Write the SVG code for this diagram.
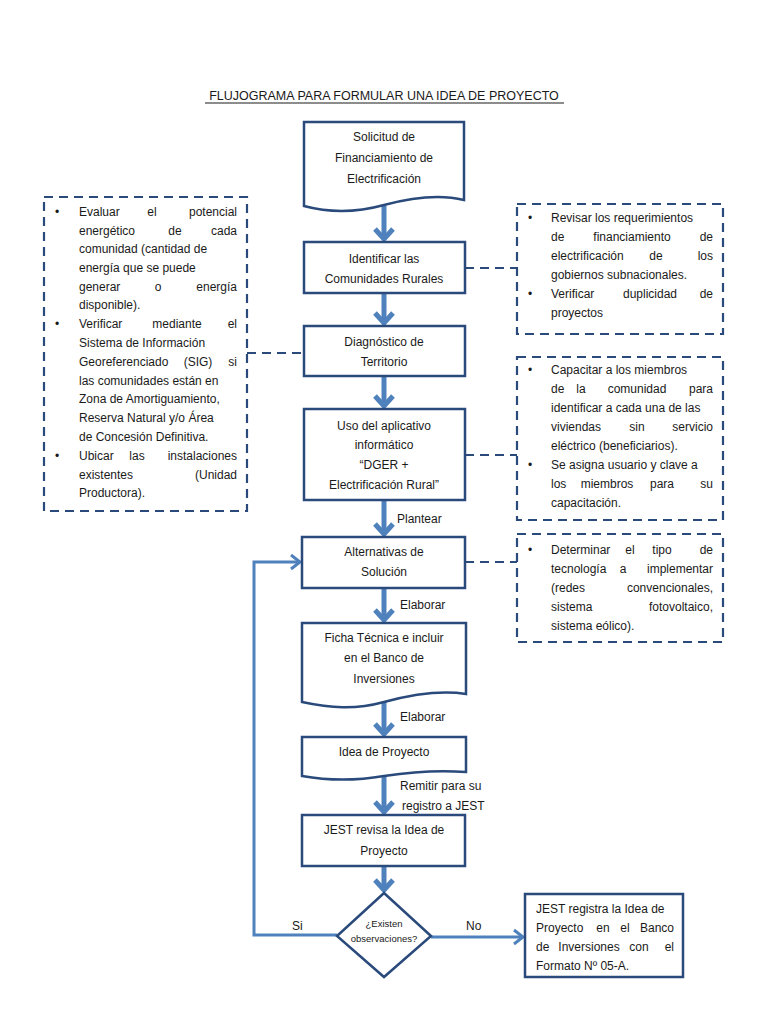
<svg xmlns="http://www.w3.org/2000/svg" width="768" height="1024" viewBox="0 0 768 1024">
<defs>
<style>
text{font-family:"Liberation Sans",Arial,sans-serif;font-size:12px;fill:#1a1a1a}
.c{text-anchor:middle}
.e{text-anchor:end}
.box{fill:#fff;stroke:#2A4A7B;stroke-width:2.5}
.dash{fill:none;stroke:#2A4A7B;stroke-width:2.2;stroke-dasharray:9 6}
.sh{fill:none;stroke:#4F81BD;stroke-width:5}
.ln{fill:none;stroke:#4F81BD;stroke-width:3}
</style>
<path id="chev" d="M-9,-11 L0,-1 L9,-11" fill="none" stroke="#4F81BD" stroke-width="5" stroke-linejoin="miter"/>
</defs>
<rect width="768" height="1024" fill="#fff"/>
<text x="384" y="100" class="c" style="font-size:12.5px">FLUJOGRAMA PARA FORMULAR UNA IDEA DE PROYECTO</text>
<line x1="205" y1="103" x2="564" y2="103" stroke="#1a1a1a" stroke-width="1"/>

<g id="connectors">
<line class="sh" x1="384" y1="206" x2="384" y2="238"/><use href="#chev" x="384" y="240"/>
<line class="sh" x1="384" y1="293" x2="384" y2="322"/><use href="#chev" x="384" y="324"/>
<line class="sh" x1="384" y1="376" x2="384" y2="405"/><use href="#chev" x="384" y="407"/>
<line class="sh" x1="384" y1="500" x2="384" y2="533"/><use href="#chev" x="384" y="535"/>
<line class="sh" x1="384" y1="588" x2="384" y2="619"/><use href="#chev" x="384" y="621"/>
<line class="sh" x1="384" y1="702" x2="384" y2="733"/><use href="#chev" x="384" y="735"/>
<line class="sh" x1="384" y1="776" x2="384" y2="811"/><use href="#chev" x="384" y="813"/>
<line class="sh" x1="384" y1="866" x2="384" y2="889"/><use href="#chev" x="384" y="891"/>
<path class="ln" d="M337,935 H254 V562 H299"/>
<path d="M291,555 L300,562 L291,569" fill="none" stroke="#4F81BD" stroke-width="3"/>
<path class="ln" d="M431,937 H522"/>
<path d="M514,930 L523,937 L514,944" fill="none" stroke="#4F81BD" stroke-width="3"/>
<line class="dash" x1="465" y1="268" x2="517" y2="268"/>
<line class="dash" x1="247" y1="353" x2="304" y2="353"/>
<line class="dash" x1="465" y1="455" x2="517" y2="455"/>
<line class="dash" x1="465" y1="562" x2="517" y2="562"/>
<text x="397" y="523">Plantear</text>
<text x="400" y="609">Elaborar</text>
<text x="400" y="721">Elaborar</text>
<text x="400" y="790">Remitir para su</text>
<text x="402" y="810">registro a JEST</text>
<text x="292" y="930">Si</text>
<text x="466" y="930">No</text>
</g>

<g id="n1"><path class="box" d="M304,122 H464 V200 C440,194 410,198 384,205 C355,213 330,213 304,206 Z"/>
<text x="384" y="141" class="c">Solicitud de</text><text x="384" y="162" class="c">Financiamiento de</text><text x="384" y="183" class="c">Electrificación</text></g>
<g id="n2"><rect class="box" x="304" y="242" width="161" height="51"/>
<text x="384" y="263" class="c">Identificar las</text><text x="384" y="283" class="c">Comunidades Rurales</text></g>
<g id="n3"><rect class="box" x="304" y="326" width="161" height="50"/>
<text x="384" y="346" class="c">Diagnóstico de</text><text x="384" y="366" class="c">Territorio</text></g>
<g id="n4"><rect class="box" x="304" y="409" width="161" height="91"/>
<text x="384" y="430" class="c">Uso del aplicativo</text><text x="384" y="449" class="c">informático</text><text x="384" y="469" class="c">“DGER +</text><text x="384" y="489" class="c">Electrificación Rural”</text></g>
<g id="n5"><rect class="box" x="302" y="537" width="163" height="51"/>
<text x="384" y="556" class="c">Alternativas de</text><text x="384" y="576" class="c">Solución</text></g>
<g id="n6"><path class="box" d="M302,623 H466 V694 C440,690 410,695 384,702 C355,710 330,708 302,702 Z"/>
<text x="384" y="642" class="c">Ficha Técnica e incluir</text><text x="384" y="662" class="c">en el Banco de</text><text x="384" y="683" class="c">Inversiones</text></g>
<g id="n7"><path class="box" d="M302,737 H466 V772 C440,770 410,772 384,776 C355,781 330,781 302,776 Z"/>
<text x="384" y="756" class="c">Idea de Proyecto</text></g>
<g id="n8"><rect class="box" x="302" y="815" width="163" height="51"/>
<text x="384" y="834" class="c">JEST revisa la Idea de</text><text x="384" y="855" class="c">Proyecto</text></g>
<g id="n9"><path class="box" d="M384,893 L431,936 L384,977 L337,936 Z"/>
<text x="384" y="927" class="c" style="font-size:9.5px">¿Existen</text><text x="384" y="942" class="c" style="font-size:9.5px">observaciones?</text></g>
<g id="n10"><rect class="box" x="525" y="894" width="158" height="83"/>
<text x="536" y="913">JEST registra la Idea de</text>
<text x="536" y="932">Proyecto</text><text x="603" y="932" class="c">en</text><text x="625" y="932" class="c">el</text><text x="674" y="932" class="e">Banco</text>
<text x="536" y="951">de</text><text x="589" y="951" class="c">Inversiones</text><text x="639" y="951" class="c">con</text><text x="674" y="951" class="e">el</text>
<text x="536" y="970">Formato Nº 05-A.</text></g>

<g id="noteL"><rect class="dash" x="44" y="197" width="203" height="314"/>
<text x="55" y="216">•</text>
<text x="79" y="216">Evaluar</text><text x="152" y="216" class="c">el</text><text x="237" y="216" class="e">potencial</text>
<text x="79" y="235">energético</text><text x="175" y="235" class="c">de</text><text x="237" y="235" class="e">cada</text>
<text x="79" y="253">comunidad (cantidad de</text>
<text x="79" y="272">energía que se puede</text>
<text x="79" y="291">generar</text><text x="158" y="291" class="c">o</text><text x="237" y="291" class="e">energía</text>
<text x="79" y="309">disponible).</text>
<text x="55" y="328">•</text>
<text x="79" y="328">Verificar</text><text x="177" y="328" class="c">mediante</text><text x="237" y="328" class="e">el</text>
<text x="79" y="347">Sistema de Información</text>
<text x="79" y="366">Georeferenciado</text><text x="198" y="366" class="c">(SIG)</text><text x="237" y="366" class="e">si</text>
<text x="79" y="385">las comunidades están en</text>
<text x="79" y="403">Zona de Amortiguamiento,</text>
<text x="79" y="422">Reserva Natural y/o Área</text>
<text x="79" y="441">de Concesión Definitiva.</text>
<text x="55" y="460">•</text>
<text x="79" y="460">Ubicar</text><text x="137" y="460" class="c">las</text><text x="237" y="460" class="e">instalaciones</text>
<text x="79" y="479">existentes</text><text x="237" y="479" class="e">(Unidad</text>
<text x="79" y="497">Productora).</text></g>

<g id="noteR1"><rect class="dash" x="517" y="204" width="206" height="130"/>
<text x="528" y="222">•</text>
<text x="551" y="222">Revisar los requerimientos</text>
<text x="551" y="241">de</text><text x="632" y="241" class="c">financiamiento</text><text x="713" y="241" class="e">de</text>
<text x="551" y="260">electrificación</text><text x="656" y="260" class="c">de</text><text x="713" y="260" class="e">los</text>
<text x="551" y="279">gobiernos subnacionales.</text>
<text x="528" y="298">•</text>
<text x="551" y="298">Verificar</text><text x="650" y="298" class="c">duplicidad</text><text x="713" y="298" class="e">de</text>
<text x="551" y="317">proyectos</text></g>

<g id="noteR2"><rect class="dash" x="517" y="357" width="206" height="163"/>
<text x="528" y="374">•</text>
<text x="551" y="374">Capacitar a los miembros</text>
<text x="551" y="393">de</text><text x="581" y="393" class="c">la</text><text x="637" y="393" class="c">comunidad</text><text x="713" y="393" class="e">para</text>
<text x="551" y="412">identificar a cada una de las</text>
<text x="551" y="431">viviendas</text><text x="637" y="431" class="c">sin</text><text x="713" y="431" class="e">servicio</text>
<text x="551" y="450">eléctrico (beneficiarios).</text>
<text x="528" y="469">•</text>
<text x="551" y="469">Se asigna usuario y clave a</text>
<text x="551" y="488">los</text><text x="607" y="488" class="c">miembros</text><text x="662" y="488" class="c">para</text><text x="713" y="488" class="e">su</text>
<text x="551" y="507">capacitación.</text></g>

<g id="noteR3"><rect class="dash" x="517" y="534" width="206" height="108"/>
<text x="528" y="554">•</text>
<text x="551" y="554">Determinar</text><text x="630" y="554" class="c">el</text><text x="662" y="554" class="c">tipo</text><text x="713" y="554" class="e">de</text>
<text x="551" y="573">tecnología</text><text x="623" y="573" class="c">a</text><text x="713" y="573" class="e">implementar</text>
<text x="551" y="592">(redes</text><text x="713" y="592" class="e">convencionales,</text>
<text x="551" y="611">sistema</text><text x="713" y="611" class="e">fotovoltaico,</text>
<text x="551" y="630">sistema eólico).</text></g>
</svg>
